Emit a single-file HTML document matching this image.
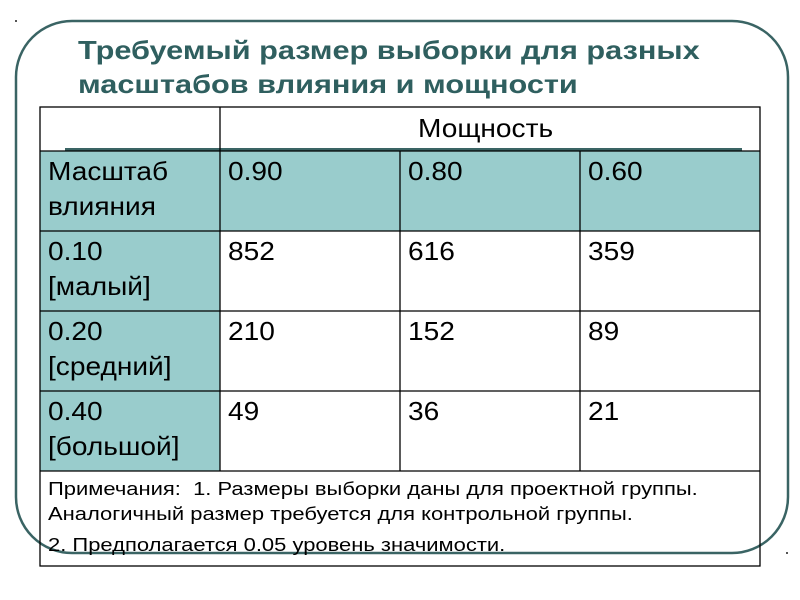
<!DOCTYPE html>
<html><head><meta charset="utf-8"><style>
body{margin:0;width:800px;height:600px;background:#fff;overflow:hidden;position:relative;font-family:"Liberation Sans","DejaVu Sans",sans-serif}
.t{position:absolute;white-space:nowrap;transform-origin:0 0}
.c{position:absolute;font-size:26px;line-height:35px;color:#000;white-space:nowrap;transform:scaleX(1.08);transform-origin:0 0}
</style></head><body>
<svg width="800" height="600" style="position:absolute;left:0;top:0">
<rect x="16" y="21" width="772" height="532" rx="56" ry="56" fill="none" stroke="#3a6464" stroke-width="2.5"/>
<rect x="40" y="151" width="720" height="80" fill="#99cccc"/>
<rect x="40" y="231" width="180" height="240" fill="#99cccc"/>
<rect x="65" y="148" width="677" height="3" fill="#3a6464"/>
<g stroke="#000" stroke-width="1.3" fill="none">
<rect x="40" y="107" width="720" height="459"/>
<line x1="40" y1="151" x2="760" y2="151"/>
<line x1="40" y1="231" x2="760" y2="231"/>
<line x1="40" y1="311" x2="760" y2="311"/>
<line x1="40" y1="391" x2="760" y2="391"/>
<line x1="40" y1="471" x2="760" y2="471"/>
<line x1="220" y1="107" x2="220" y2="471"/>
<line x1="400" y1="151" x2="400" y2="471"/>
<line x1="580" y1="151" x2="580" y2="471"/>
</g>
<rect x="15" y="20" width="2" height="2" fill="#555"/>
<rect x="786" y="552" width="2" height="2" fill="#555"/>
</svg>
<div class="t" style="left:78px;top:33px;font-size:26px;line-height:34px;font-weight:bold;color:#2f5f5f;transform:scaleX(1.18)">Требуемый размер выборки для разных<br>масштабов влияния и мощности</div>
<div class="c" style="left:418px;top:111px">Мощность</div>
<div class="c" style="left:48px;top:154px">Масштаб<br>влияния</div>
<div class="c" style="left:228px;top:154px">0.90</div>
<div class="c" style="left:408px;top:154px">0.80</div>
<div class="c" style="left:588px;top:154px">0.60</div>
<div class="c" style="left:48px;top:234px">0.10<br>[малый]</div>
<div class="c" style="left:228px;top:234px">852</div>
<div class="c" style="left:408px;top:234px">616</div>
<div class="c" style="left:588px;top:234px">359</div>
<div class="c" style="left:48px;top:314px">0.20<br>[средний]</div>
<div class="c" style="left:228px;top:314px">210</div>
<div class="c" style="left:408px;top:314px">152</div>
<div class="c" style="left:588px;top:314px">89</div>
<div class="c" style="left:48px;top:394px">0.40<br>[большой]</div>
<div class="c" style="left:228px;top:394px">49</div>
<div class="c" style="left:408px;top:394px">36</div>
<div class="c" style="left:588px;top:394px">21</div>
<div class="t" style="left:48px;top:477px;font-size:18px;line-height:25px;transform:scaleX(1.22)">Примечания:&nbsp; 1. Размеры выборки даны для проектной группы.<br>Аналогичный размер требуется для контрольной группы.</div>
<div class="t" style="left:48px;top:533px;font-size:18px;line-height:25px;transform:scaleX(1.22)">2. Предполагается 0.05 уровень значимости.</div>
</body></html>
